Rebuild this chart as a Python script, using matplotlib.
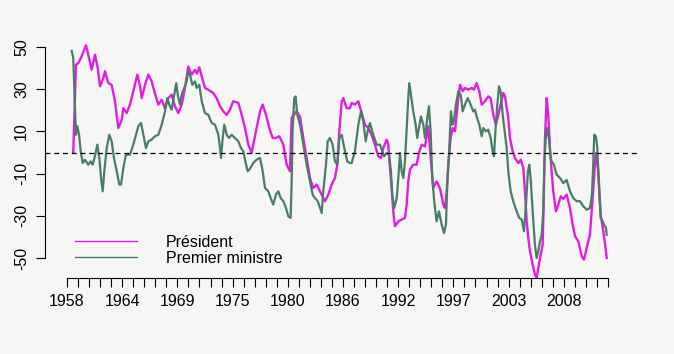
import matplotlib
matplotlib.use("Agg")
import matplotlib.pyplot as plt
from matplotlib.lines import Line2D
import numpy as np

plt.rcParams['font.family'] = ['Liberation Sans', 'DejaVu Sans']

# Popularity balance (approval minus disapproval)
pres_years = [1958.63, 1958.90, 1959.14, 1959.48, 1959.91, 1960.14, 1960.48, 1960.81, 1961.09, 1961.32,
              1961.65, 1961.82, 1962.15, 1962.49, 1962.82, 1963.16, 1963.50, 1963.66, 1964.00, 1964.33,
              1964.66, 1965.07, 1965.34, 1965.51, 1965.84, 1966.17, 1966.51, 1966.84, 1967.18, 1967.52,
              1967.85, 1968.18, 1968.52, 1968.85, 1969.19, 1969.53, 1969.86, 1970.19, 1970.53, 1970.86,
              1971.07, 1971.30, 1971.54, 1971.87, 1972.20, 1972.70, 1973.04, 1973.38, 1973.71, 1974.05,
              1974.38, 1974.71, 1975.22, 1975.56, 1975.89, 1976.22, 1976.56, 1976.72, 1977.06, 1977.40,
              1977.67, 1978.00, 1978.33, 1978.67, 1979.00, 1979.34, 1979.74, 1980.08, 1980.41, 1980.58,
              1980.81, 1981.08, 1981.42, 1981.75, 1982.09, 1982.42, 1982.75, 1983.10, 1983.43, 1983.76,
              1983.93, 1984.26, 1984.60, 1984.93, 1985.17, 1985.37, 1985.61, 1985.77, 1986.11, 1986.44,
              1986.61, 1986.94, 1987.28, 1987.62, 1987.95, 1988.28, 1988.62, 1988.95, 1989.29, 1989.56,
              1989.79, 1990.13, 1990.29, 1990.46, 1990.63, 1990.79, 1990.96, 1991.30, 1991.64, 1991.97,
              1992.14, 1992.30, 1992.47, 1992.80, 1993.14, 1993.38, 1993.65, 1993.98, 1994.31, 1994.58,
              1994.81, 1995.15, 1995.49, 1995.82, 1995.99, 1996.16, 1996.32, 1996.56, 1996.76, 1996.99,
              1997.16, 1997.33, 1997.50, 1997.77, 1998.00, 1998.33, 1998.67, 1998.90, 1999.17, 1999.44,
              1999.68, 2000.01, 2000.34, 2000.58, 2000.84, 2001.11, 2001.35, 2001.62, 2001.85, 2002.02,
              2002.35, 2002.52, 2002.79, 2003.02, 2003.36, 2003.60, 2003.86, 2004.03, 2004.20, 2004.36,
              2004.53, 2004.80, 2005.03, 2005.20, 2005.37, 2005.54, 2005.81, 2005.94, 2006.04, 2006.21,
              2006.37, 2006.54, 2006.71, 2006.87, 2007.14, 2007.38, 2007.62, 2007.88, 2008.22, 2008.55,
              2008.82, 2009.06, 2009.39, 2009.73, 2009.96, 2010.23, 2010.56, 2010.83, 2011.06, 2011.16,
              2011.40, 2011.64, 2011.90, 2012.17, 2012.24]
pres_vals = [0, 41.6, 42.4, 45.6, 50.8, 46.4, 39.3, 46.4, 40, 31.4,
             35.3, 38.5, 33, 32, 24.3, 11.6, 15.5, 21, 18.7, 22.7,
             29, 36.9, 31.4, 25.8, 32, 36.9, 33.7, 28, 22.7, 25,
             21, 25.8, 27.4, 21.9, 18.7, 22.7, 30.6, 40.8, 36.9, 39.2,
             37.4, 40.4, 36.1, 30.6, 29.8, 28.2, 25.8, 21.9, 19.5, 17.9,
             20.3, 24.3, 23.5, 17.9, 11.6, 3.7, -0.2, 3.7, 11.6, 19.5,
             22.7, 17.9, 11.6, 6.9, 6.9, 7.7, 3.7, -5.8, -8.9, 16.4,
             17.9, 19.5, 17, 6.9, -2.6, -12.1, -16.8, -15.2, -18.4, -21.6,
             -23.1, -20, -15.2, -12.1, -5.8, 10, 24.3, 25.8, 21, 21,
             23.5, 22.7, 24.3, 18.7, 13.2, 11.6, 8.4, 3.7, -1.8, -2.6,
             2.1, 6.1, 3.7, -7.3, -16.8, -27.9, -35, -32.6, -31.8, -31,
             -24.7, -13.7, -8.1, -5.8, -5.8, -0.2, 3.7, 2.9, 12.4, -4.2,
             -16.8, -13.7, -17, -24.7, -26.3, -18.4, -5.8, 6.9, 11.6, 10,
             17.9, 25.8, 32.1, 29, 30.6, 29.8, 30.6, 29.8, 32.9, 29,
             22.7, 24.3, 26.6, 25.8, 17.9, 13.2, 17.9, 23.5, 28.2, 26.6,
             16.4, 6.9, 0.6, -2.6, -5, -3.4, -7.3, -18.4, -32.6, -40.5,
             -46.8, -53.2, -57.9, -59.5, -54.7, -50, -43.7, -16.8, 6.9, 25.8,
             17.9, 2.1, -8.9, -18.4, -27.9, -24.7, -20.8, -22, -20, -26.3,
             -34.2, -39.7, -42.1, -49.2, -50.8, -45.3, -39, -21.6, -5.8, -0.2,
             -8.9, -29.5, -37.3, -46.8, -50]

pm_years = [1958.47, 1958.63, 1958.80, 1958.90, 1959.04, 1959.21, 1959.38, 1959.58, 1959.81, 1960.14,
            1960.38, 1960.58, 1960.81, 1961.05, 1961.25, 1961.42, 1961.59, 1961.75, 1961.99, 1962.25,
            1962.49, 1962.72, 1963.00, 1963.26, 1963.43, 1963.66, 1963.93, 1964.33, 1964.66, 1964.93,
            1965.17, 1965.44, 1965.67, 1965.94, 1966.17, 1966.51, 1966.84, 1967.18, 1967.52, 1967.85,
            1968.08, 1968.28, 1968.52, 1968.78, 1968.98, 1969.13, 1969.36, 1969.53, 1969.79, 1970.03,
            1970.19, 1970.36, 1970.59, 1970.86, 1971.03, 1971.30, 1971.54, 1971.87, 1972.20, 1972.54,
            1972.87, 1973.21, 1973.38, 1973.48, 1973.65, 1973.81, 1974.05, 1974.28, 1974.55, 1974.88,
            1975.22, 1975.49, 1975.72, 1975.96, 1976.16, 1976.39, 1976.72, 1977.06, 1977.40, 1977.67,
            1977.90, 1978.23, 1978.47, 1978.73, 1979.00, 1979.24, 1979.48, 1979.74, 1980.01, 1980.24,
            1980.48, 1980.58, 1980.68, 1980.84, 1980.98, 1981.14, 1981.42, 1981.75, 1982.09, 1982.42,
            1982.69, 1982.92, 1983.20, 1983.43, 1983.60, 1983.76, 1984.03, 1984.20, 1984.43, 1984.70,
            1984.93, 1985.17, 1985.37, 1985.61, 1985.87, 1986.17, 1986.44, 1986.61, 1986.94, 1987.28,
            1987.55, 1987.78, 1988.02, 1988.28, 1988.45, 1988.78, 1989.12, 1989.46, 1989.69, 1989.89,
            1990.13, 1990.36, 1990.56, 1990.69, 1990.89, 1991.14, 1991.30, 1991.47, 1991.64, 1991.80,
            1991.97, 1992.14, 1992.30, 1992.40, 1992.57, 1992.80, 1993.04, 1993.20, 1993.38, 1993.58,
            1993.81, 1993.98, 1994.21, 1994.38, 1994.55, 1994.71, 1994.91, 1995.15, 1995.39, 1995.66,
            1995.89, 1996.09, 1996.22, 1996.42, 1996.59, 1996.76, 1996.89, 1997.09, 1997.33, 1997.57,
            1997.77, 1998.00, 1998.27, 1998.50, 1998.83, 1999.00, 1999.17, 1999.44, 1999.68, 1999.84,
            2000.11, 2000.34, 2000.58, 2000.78, 2000.91, 2001.08, 2001.25, 2001.42, 2001.59, 2001.79,
            2001.95, 2002.19, 2002.35, 2002.59, 2002.85, 2003.19, 2003.45, 2003.70, 2003.93, 2004.13,
            2004.33, 2004.46, 2004.60, 2004.80, 2005.03, 2005.20, 2005.37, 2005.54, 2005.71, 2005.87,
            2005.97, 2006.11, 2006.27, 2006.47, 2006.61, 2006.71, 2006.94, 2007.21, 2007.55, 2007.88,
            2008.22, 2008.55, 2008.88, 2009.22, 2009.56, 2009.89, 2010.23, 2010.56, 2010.76, 2010.89,
            2010.99, 2011.16, 2011.30, 2011.40, 2011.50, 2011.64, 2011.84, 2011.97, 2012.17, 2012.24]
pm_vals = [48.2, 44.8, 22.7, 8.4, 12.4, 8.4, 0.6, -5, -3.4, -5.8,
           -4.2, -5.8, -1.8, 3.7, -2.6, -12.1, -18.4, -8.9, 2.1, 8.4,
           5.3, -2.6, -8.9, -15.2, -15.2, -7.3, -1, -1, 3.7, 8.4,
           12.4, 14, 8.4, 2.1, 5.3, 6.1, 7.7, 8.4, 13.2, 19.5,
           25.8, 22.7, 20.3, 27.4, 32.9, 27.4, 22.7, 27.4, 30.6, 33.7,
           38.5, 36.9, 32.1, 33.7, 30.6, 32.1, 24.3, 18.7, 17.9, 14,
           13.2, 8.4, 2.1, -2.6, 6.9, 13.2, 8.4, 6.9, 8.4, 6.9,
           5.3, 2.1, 0.6, -5, -8.9, -7.7, -5, -3.4, -2.6, -8.9,
           -16.8, -18.4, -21.6, -24.7, -20, -18.4, -21.6, -23.1, -26.3, -30.2,
           -31, -13.7, 11.6, 25.8, 26.6, 17.9, 13.2, 3.7, -5.8, -13.7,
           -20, -21.6, -23.1, -26.3, -28.7, -18.4, -5.8, 5.3, 6.9, 3.7,
           -4.2, -5.8, 6.9, 8.4, 2.1, -4.2, -5, -5, 0.6, 13.2,
           19.5, 14.8, 5.3, 11.6, 14, 8.4, 3.7, 3.7, 0.6, -1.8,
           -0.2, -1, -8.9, -20, -26.3, -21.6, -12.1, -0.2, -8.9, -12.1,
           -4.2, 11.6, 25.8, 32.9, 27.4, 19.5, 13.2, 6.9, 11.6, 17.1,
           13.2, 6.9, 16.4, 21.9, 10, -12.1, -23.1, -32.6, -27.9, -34.2,
           -38.2, -34, -15.2, 2.1, 19.5, 13.2, 14.8, 22.7, 29, 27.4,
           19.5, 22.7, 25.8, 23.5, 19.5, 20.3, 17.1, 13.2, 7.7, 11.6,
           10, 10.8, 6.9, 0.6, -1.8, 11.6, 22.7, 31.4, 29, 17.9,
           11.6, 2.1, -8.9, -18.4, -23.1, -27.9, -31, -31.8, -37.3, -24.7,
           -8.9, -5.8, -12.1, -27.9, -43.7, -50, -46.8, -42.1, -39, -27.9,
           -5.8, 6.9, 11.6, 5.3, -2.6, -4.2, -5.8, -10.5, -12.1, -14.5,
           -13, -18.4, -21.6, -23.1, -23.1, -25.5, -27.1, -26.3, -20, -5.8,
           8.4, 7.7, 2.1, -8.9, -20, -31, -32.6, -34.2, -35.8, -39]

year_labels = ['1958', '1964', '1969', '1975', '1980', '1986', '1992', '1997', '2003', '2008']
y_ticks = [50, 30, 10, -10, -30, -50]

bg = '#f6f6f5'
pres_col = '#e01ee0'
pm_col = '#4a7d68'

fig = plt.figure(figsize=(6.74, 3.54), dpi=100, facecolor=bg)
ax = fig.add_axes([45/674, 1 - 278/354, 595/674, 241.5/354])
ax.set_facecolor(bg)

ax.plot(pres_years, pres_vals, color=pres_col, lw=1.7)
ax.plot(pm_years, pm_vals, color=pm_col, lw=1.6)
ax.axhline(0, color='black', lw=0.9, ls=(0, (4, 3)))

ax.set_xlim(1955.79, 2015.59)
ax.set_ylim(-59.5, 55)

# axis ticks: 50 ticks, a label every 5th
tick_pos = np.linspace(1958, 2012.37, 50)
ax.set_xticks(tick_pos[::5])
ax.set_xticklabels(year_labels)
ax.set_xticks(tick_pos, minor=True)
ax.tick_params(axis='x', which='both', direction='out', length=6.5, width=0.8,
               labelsize=11.5, pad=5)
ax.set_yticks(y_ticks)
ax.set_yticklabels([str(v) for v in y_ticks], rotation=90, va='center')
ax.tick_params(axis='y', direction='out', length=6.5, width=0.8, labelsize=11.5, pad=5)

for s in ['top', 'right']:
    ax.spines[s].set_visible(False)
ax.spines['left'].set_bounds(-50, 50)
ax.spines['bottom'].set_bounds(tick_pos[0], tick_pos[-1])
ax.spines['left'].set_linewidth(0.8)
ax.spines['bottom'].set_linewidth(0.8)

handles = [Line2D([], [], color=pres_col, lw=1.0), Line2D([], [], color=pm_col, lw=1.0)]
fig.legend(handles, ['Président', 'Premier ministre'], loc='upper left',
           bbox_to_anchor=(75/674, 1 - 235/354), frameon=False, fontsize=11.5,
           handlelength=3.9, handletextpad=1.8, labelspacing=0.05,
           borderpad=0, borderaxespad=0)

fig.savefig('out.png', dpi=100, facecolor=bg)
